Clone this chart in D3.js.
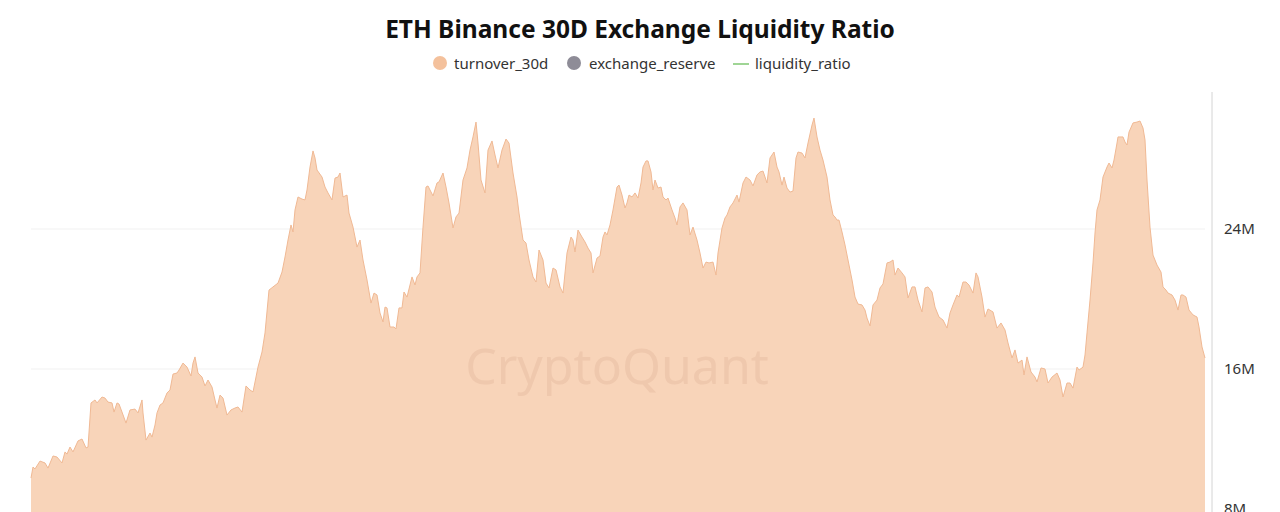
<!DOCTYPE html>
<html>
<head>
<meta charset="utf-8">
<script src="https://cdn.jsdelivr.net/npm/d3@7"></script>
<style>
  body { margin: 0; background: #fff; }
  svg { display: block; font-family: "Noto Sans", "Open Sans", sans-serif; }
</style>
</head>
<body>
<svg id="chart"></svg>
<script>
// chart text
var title = "ETH Binance 30D Exchange Liquidity Ratio";
var legendNames = ["turnover_30d", "exchange_reserve", "liquidity_ratio"];
var yTicks = [8, 16, 24];   // millions

// data: days since start, turnover_30d in millions
var startDate = new Date(2022, 2, 1);
var days = [
  0, 2, 4, 9, 14, 17, 22, 26, 31, 34, 36, 39, 42, 47, 51, 55, 57, 60, 64, 66,
  71, 74, 77, 81, 83, 86, 88, 91, 95, 99, 104, 107, 111, 112, 115, 119, 121, 124, 126, 129,
  132, 136, 139, 142, 146, 148, 152, 156, 160, 162, 164, 167, 171, 174, 177, 181, 184, 186, 189,
  192, 196, 200, 204, 207, 211, 215, 219, 222, 227, 231, 234, 238, 242, 247, 251, 254, 257, 260, 262,
  264, 267, 271, 274, 276, 279, 282, 284, 286, 291, 294, 297, 301, 304, 307, 309, 312, 316, 318, 322,
  326, 329, 332, 336, 340, 343, 346, 349, 352, 354, 356, 359, 363, 365, 368, 371, 373, 376,
  381, 384, 386, 389, 392, 395, 397, 402, 406, 408, 412, 415, 418, 422, 425, 428, 432, 436, 439, 442,
  445, 447, 450, 454, 457, 461, 464, 467, 471, 475, 478, 482, 486, 488, 492, 495, 498, 502, 505, 508,
  512, 515, 518, 522, 525, 529, 532, 536, 540, 542, 544, 547, 551, 554, 557, 560, 562, 566,
  569, 572, 574, 576, 579, 582, 586, 588, 591, 594, 596, 598, 601, 604, 607, 610, 612, 615, 617, 620,
  622, 624, 627, 630, 632, 635, 637, 641, 644, 646, 649, 652, 656, 659, 662, 666, 669, 672, 675, 678,
  682, 685, 687, 691, 694, 696, 699, 702, 706, 708, 712, 715, 719, 722, 726, 729, 732, 736, 739, 743,
  746, 748, 751, 753, 756, 759,
  762, 765, 767, 771, 774, 777, 781, 783, 786, 789, 792, 796, 799, 802, 804, 806, 808, 811, 814, 817,
  821, 824, 827, 831, 834, 836, 839, 842, 846, 849, 852, 856, 859, 862, 864, 867, 871, 874, 877, 881,
  884, 887, 891, 894, 897, 901, 904, 908, 912, 916, 919, 922, 926, 928, 932, 935, 938, 942, 945, 947,
  951, 954, 957, 962, 966,
  970, 974, 977, 981, 984, 987, 991, 993, 996, 1000, 1004, 1006, 1010, 1014, 1017, 1021, 1026, 1029, 1032, 1036,
  1039, 1042, 1046, 1048, 1052, 1054, 1056, 1059, 1062, 1064, 1066, 1069, 1072, 1076, 1078, 1081, 1083, 1086, 1087, 1092,
  1094, 1096, 1098, 1102, 1106, 1109, 1112, 1114, 1116, 1119, 1122, 1126, 1130, 1132, 1135, 1137, 1141, 1144, 1147, 1150,
  1152, 1155, 1158, 1162, 1166, 1168, 1171, 1174
];
var turnover = [
  9.77, 10.40, 10.29, 10.74, 10.63, 10.34, 11.03, 10.97, 10.63, 11.26, 11.14, 11.54, 11.26, 11.89, 12.00, 11.49, 11.54, 14.06, 14.23, 14.06,
  14.40, 14.34, 14.11, 14.06, 13.54, 14.06, 14.00, 13.54, 12.91, 13.66, 13.71, 13.49, 14.23, 13.49, 11.94, 12.34, 12.11, 12.80, 13.49, 13.94,
  14.06, 14.63, 14.80, 15.71, 15.77, 15.94, 16.34, 16.11, 15.60, 16.34, 16.69, 15.77, 15.54, 15.03, 15.37, 14.97, 14.23, 13.77, 14.51,
  14.34, 13.37, 13.66, 13.77, 13.83, 13.54, 15.03, 14.80, 14.69, 16.11, 16.97, 18.06, 20.51, 20.69, 20.91, 21.54, 22.40, 23.37, 24.23, 23.83,
  25.09, 25.83, 25.71, 25.66, 26.23, 27.54, 28.46, 28.06, 27.37, 26.97, 26.40, 26.06, 25.66, 26.91, 26.97, 27.20, 25.83, 25.94, 24.91, 24.11,
  22.97, 23.37, 22.23, 21.09, 19.77, 20.34, 20.23, 19.20, 18.69, 19.54, 19.49, 18.40, 18.40, 18.29, 19.49, 19.49, 20.40, 20.11,
  21.26, 20.80, 21.26, 21.49, 24.11, 26.40, 26.46, 25.89, 26.63, 26.69, 27.20, 26.40, 25.49, 24.06, 24.69, 24.91, 26.80, 27.49, 28.51, 29.26,
  30.11, 28.91, 26.80, 26.06, 28.51, 29.03, 28.23, 27.49, 28.51, 29.14, 28.91, 27.20, 25.83, 24.91, 23.37, 23.20, 22.23, 21.26, 20.97, 22.80,
  22.23, 20.91, 20.63, 21.77, 21.66, 20.69, 20.34, 22.63, 23.54, 23.37, 22.69, 23.94, 23.54, 23.26, 22.91, 22.63, 21.49, 22.34,
  22.46, 23.54, 23.83, 23.66, 24.23, 25.09, 26.40, 26.51, 25.94, 25.20, 25.49, 25.94, 25.83, 26.06, 25.77, 26.63, 27.54, 27.89, 27.89, 27.26,
  26.23, 26.80, 26.34, 26.40, 25.83, 25.66, 25.77, 25.09, 24.63, 24.23, 25.26, 25.49, 25.09, 23.66, 24.11, 23.37, 22.63, 21.77, 22.11, 22.06,
  22.11, 21.37, 22.63, 24.06, 24.63, 24.80, 25.26, 25.49, 25.94, 25.54, 26.63, 26.97, 26.80, 26.46, 27.09, 27.26, 27.31, 26.63, 28.06, 28.40,
  27.54, 27.26, 26.51, 26.97, 26.34, 26.11,
  26.17, 28.06, 28.40, 28.34, 28.06, 28.91, 29.94, 30.34, 29.26, 28.51, 27.94, 26.97, 25.66, 24.80, 24.69, 24.51, 24.51, 23.83, 23.09, 22.23,
  21.09, 20.11, 19.71, 19.66, 19.37, 18.91, 18.46, 19.66, 19.94, 20.63, 20.86, 22.06, 22.11, 22.23, 21.37, 21.77, 21.49, 21.26, 20.06, 20.69,
  20.69, 19.94, 19.26, 20.63, 20.69, 20.40, 19.54, 18.97, 18.80, 18.34, 19.20, 19.66, 20.23, 20.11, 20.97, 20.97, 20.80, 20.34, 21.49, 21.26,
  20.11, 18.97, 19.43, 19.26, 18.34,
  18.63, 18.23, 17.49, 16.63, 17.09, 16.34, 16.51, 15.66, 16.69, 15.83, 15.54, 15.26, 16.06, 16.00, 15.20, 15.54, 15.77, 15.37, 14.40, 15.20,
  15.20, 14.91, 16.11, 15.94, 16.11, 16.80, 18.06, 19.94, 22.06, 23.77, 25.09, 25.66, 26.97, 27.54, 27.77, 27.49, 27.94, 28.91, 29.26, 29.26,
  28.97, 28.80, 29.54, 30.06, 30.11, 30.17, 29.77, 29.09, 26.80, 24.11, 22.51, 21.94, 21.54, 20.69, 20.51, 20.34, 20.23, 19.94, 19.37, 20.23,
  20.23, 20.11, 19.37, 19.09, 18.97, 18.40, 17.26, 16.63
];

// series colours
var colors = ["#f4c19c", "#8e8c97", "#7fc772"];

// canvas
var width = 1280;
var height = 512;
var plotLeft = 31;
var plotRight = 1205;
var plotTop = 92;
var plotBottom = 520;
var axisX = 1212;

var svg = d3.select("#chart");
svg.attr("width", width);
svg.attr("height", height);

var data = [];
for (var i = 0; i < days.length; i += 1) {
  data.push({ date: d3.timeDay.offset(startDate, days[i]), value: turnover[i] });
}

// scales
var x = d3.scaleTime()
  .domain([startDate, d3.timeDay.offset(startDate, days[days.length - 1])])
  .range([plotLeft, plotRight]);

var y = d3.scaleLinear()
  .domain([8, 24])
  .range([509, 229]);

// grid lines (under the area)
for (var t = 0; t < yTicks.length; t += 1) {
  var gy = y(yTicks[t]);
  svg.append("line")
    .attr("x1", plotLeft).attr("x2", plotRight)
    .attr("y1", gy).attr("y2", gy)
    .attr("stroke", "#f1f1f1")
    .attr("stroke-width", 1);
}

// area
var area = d3.area()
  .x(function (d) { return x(d.date); })
  .y0(plotBottom)
  .y1(function (d) { return y(d.value); });

svg.append("path")
  .datum(data)
  .attr("d", area)
  .attr("fill", "#f8d4b9");

var line = d3.line()
  .x(function (d) { return x(d.date); })
  .y(function (d) { return y(d.value); });

svg.append("path")
  .datum(data)
  .attr("d", line)
  .attr("fill", "none")
  .attr("stroke", "#f0b994")
  .attr("stroke-width", 1);

// watermark
svg.append("text")
  .attr("x", 617)
  .attr("y", 384)
  .attr("text-anchor", "middle")
  .attr("font-size", "50px")
  .attr("fill", "#efc8ad")
  .text("CryptoQuant");

// right axis
var yAxis = d3.axisRight(y).tickValues(yTicks).tickSize(0).tickPadding(12)
  .tickFormat(function (d) { return d + "M"; });

var axisG = svg.append("g")
  .attr("transform", "translate(" + axisX + ",0)")
  .call(yAxis);
axisG.select(".domain").remove();
axisG.selectAll("text")
  .attr("font-size", "15px")
  .attr("font-family", "Noto Sans, sans-serif")
  .attr("fill", "#333");

svg.append("line")
  .attr("x1", axisX).attr("x2", axisX)
  .attr("y1", plotTop).attr("y2", height)
  .attr("stroke", "#d4d4d4")
  .attr("stroke-width", 1);

// title
svg.append("text")
  .attr("x", width / 2)
  .attr("y", 38)
  .attr("text-anchor", "middle")
  .attr("font-size", "24.5px")
  .attr("font-weight", "bold")
  .attr("fill", "#111")
  .text(title);

// legend
var legendX = [440, 574, 741];
var legendTextX = [454, 589, 755];
for (var k = 0; k < legendNames.length; k += 1) {
  if (k < 2) {
    svg.append("circle")
      .attr("cx", legendX[k]).attr("cy", 63)
      .attr("r", 7)
      .attr("fill", colors[k]);
  } else {
    svg.append("line")
      .attr("x1", legendX[k] - 8).attr("x2", legendX[k] + 8)
      .attr("y1", 64).attr("y2", 64)
      .attr("stroke", colors[k])
      .attr("stroke-width", 1.5);
  }
  svg.append("text")
    .attr("x", legendTextX[k])
    .attr("y", 69)
    .attr("font-size", "15px")
    .attr("fill", "#333")
    .text(legendNames[k]);
}
</script>
</body>
</html>
